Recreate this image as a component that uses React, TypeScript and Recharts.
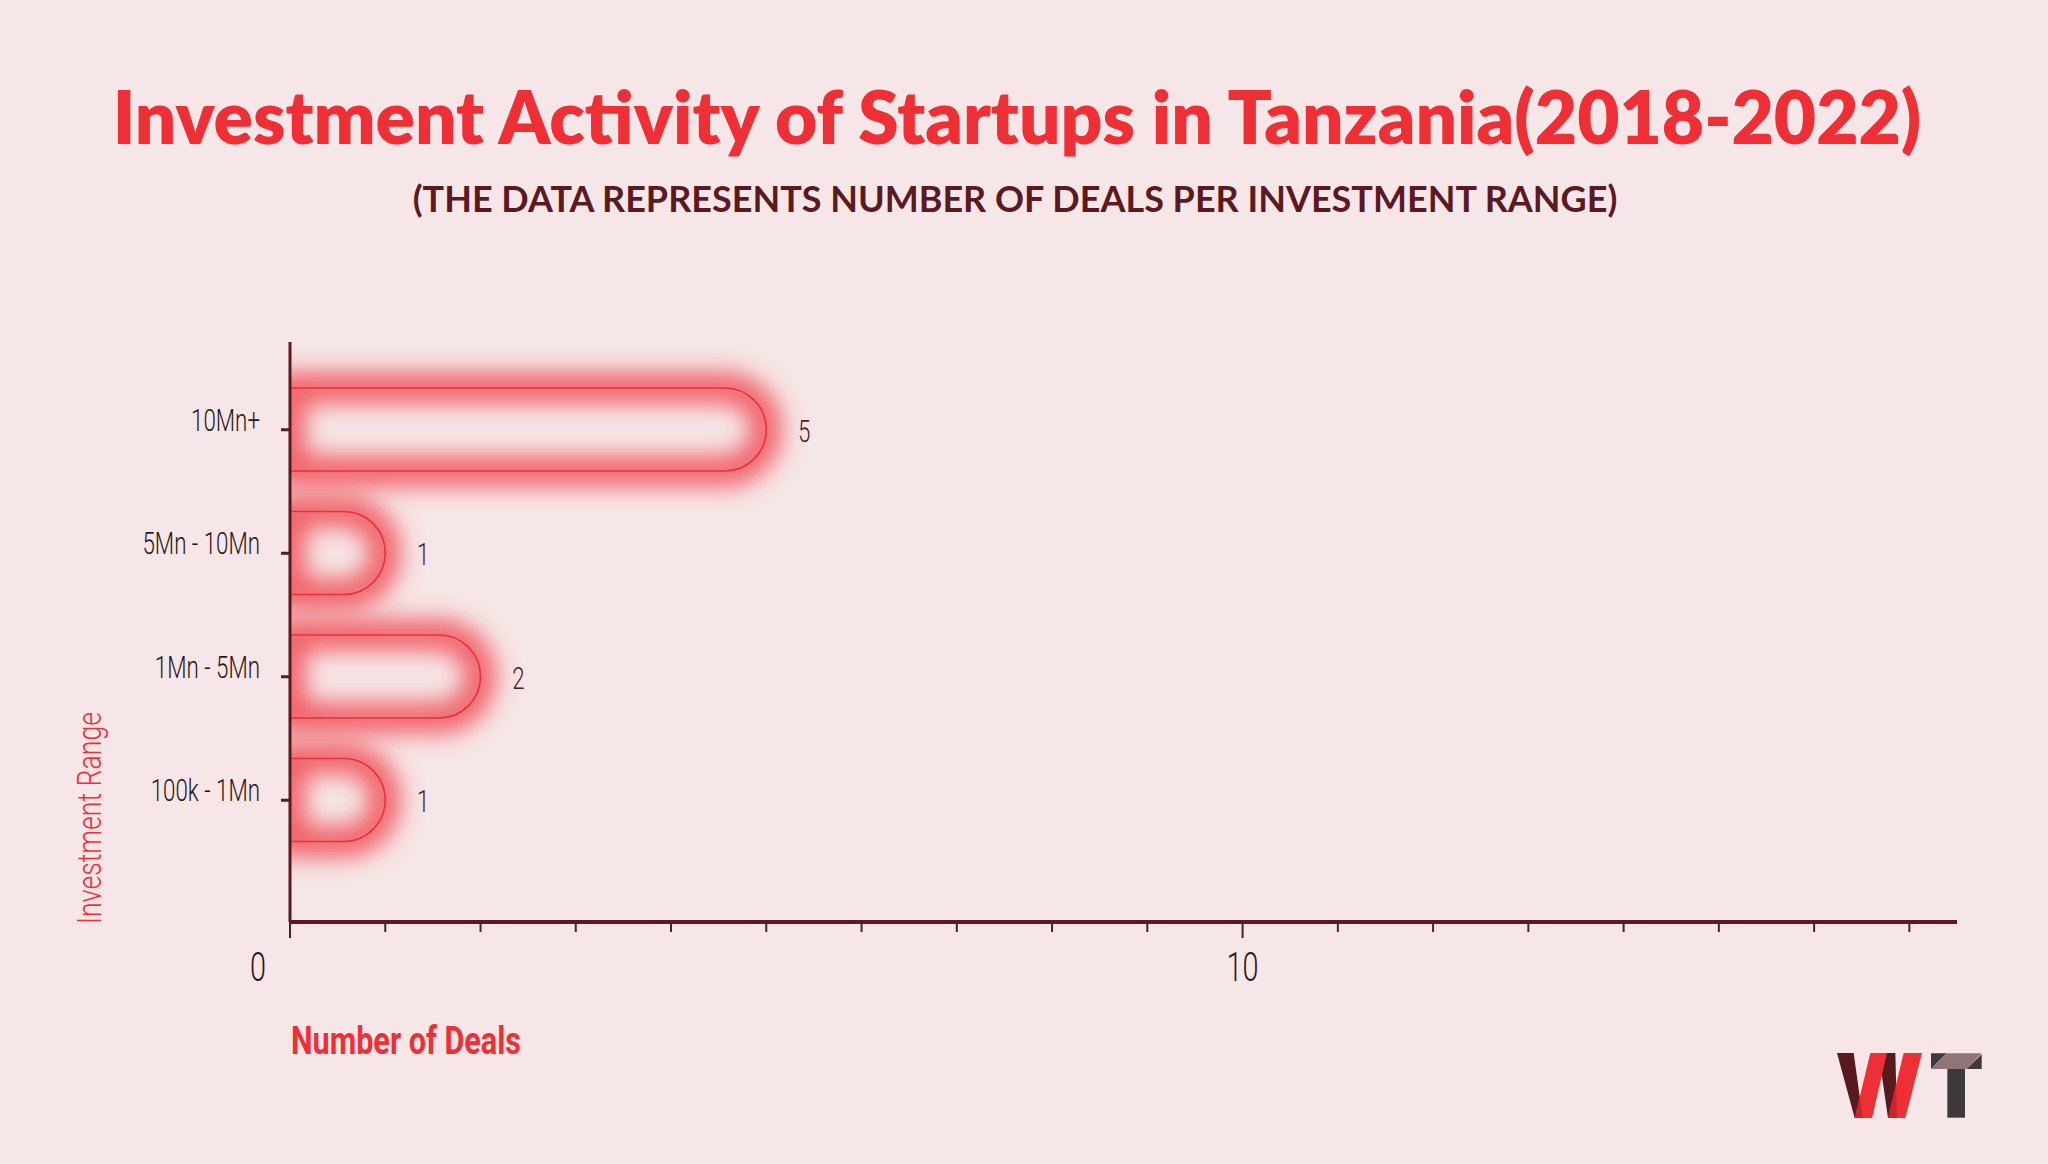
import React from 'react';
import { BarChart, Bar, XAxis, YAxis, LabelList } from 'recharts';

// deals per investment range, 2018-2022
const investmentRanges = ['10Mn+', '5Mn - 10Mn', '1Mn - 5Mn', '100k - 1Mn'];
const dealCounts = [5, 1, 2, 1];
const dealTicks = [0, 1, 2, 3, 4, 5, 6, 7, 8, 9, 10, 11, 12, 13, 14, 15, 16, 17];
const labelledDealTicks = [0, 10];
const dealDomain = [0, 17.5];

const data = investmentRanges.map((range, i) => ({ range, deals: dealCounts[i] }));

const BG = '#f6e6e7';
const RED = '#ee3036';
const MAROON = '#5a1a21';
const INK = '#2b1719';
const CONDENSED = 'Roboto, "DejaVu Sans", sans-serif';

// rounded-end bar with a soft red glow around its outline
const GlowBar = (props: any) => {
  const { x, y, width, height, index } = props;
  const r = Math.min(height / 2, width);
  const right = x + width;
  const outline = `M${x},${y} H${right - r} A${r},${r} 0 0 1 ${right},${y + r} V${y + height - r} A${r},${r} 0 0 1 ${right - r},${y + height} H${x}`;
  const id = `bar-glow-${index}`;
  return (
    <g>
      <defs>
        <filter id={id} x="-80%" y="-100%" width="260%" height="300%">
          <feGaussianBlur stdDeviation="12" />
        </filter>
      </defs>
      <path d={`${outline} Z`} fill="none" stroke="#ef3a42" strokeWidth={30} strokeOpacity={0.8} filter={`url(#${id})`} />
      <path d={outline} fill="none" stroke="#e9303a" strokeWidth={1.6} />
    </g>
  );
};

const DealValue = (props: any) => {
  const { x, y, width, height, value } = props;
  return (
    <g transform={`translate(${x + width + 38},${y + height / 2 + 12})`}>
      <text transform="scale(0.72,1)" textAnchor="middle" fontFamily={CONDENSED} fontWeight={300} fontSize={31} fill="#4a2025">
        {value}
      </text>
    </g>
  );
};

const RangeTick = (props: any) => {
  const { x, y, payload } = props;
  return (
    <g transform={`translate(${x},${y + 1})`}>
      <text transform="scale(0.72,1)" textAnchor="end" fontFamily={CONDENSED} fontWeight={300} fontSize={31} fill={INK}>
        {payload.value}
      </text>
    </g>
  );
};

const DealTick = (props: any) => {
  const { x, y, payload } = props;
  const major = labelledDealTicks.includes(payload.value);
  return (
    <g>
      <line x1={x} x2={x} y1={y} y2={y + (major ? 16 : 10)} stroke={MAROON} strokeWidth={2} />
      {major && (
        <g transform={`translate(${x + (payload.value === 0 ? -32 : 0)},${y + 59})`}>
          <text transform="scale(0.72,1)" textAnchor="middle" fontFamily={CONDENSED} fontWeight={300} fontSize={40} fill={INK}>
            {payload.value}
          </text>
        </g>
      )}
    </g>
  );
};

const DealsTitle = ({ viewBox }: any) => (
  <text x={viewBox.x + 1} y={viewBox.y + 132} textLength={230} lengthAdjust="spacingAndGlyphs" fontFamily={CONDENSED} fontWeight={700} fontSize={38} fill={RED}>
    Number of Deals
  </text>
);

const RangeTitle = ({ viewBox }: any) => {
  const cx = viewBox.x - 51;
  const cy = viewBox.y + viewBox.height - 104;
  return (
    <text
      x={cx}
      y={cy}
      transform={`rotate(-90 ${cx} ${cy})`}
      textAnchor="middle"
      dominantBaseline="central"
      textLength={212}
      lengthAdjust="spacingAndGlyphs"
      fontFamily={CONDENSED}
      fontWeight={300}
      fontSize={33}
      fill={RED}
    >
      Investment Range
    </text>
  );
};

// WT mark, bottom right
const Logo = () => (
  <g>
    <svg x={1832} y={1048} width={100} height={75} viewBox="0 0 300 225">
      <polygon points="15,15 65,15 92,210 68,210" fill="#561a1f" />
      <polygon points="140,15 190,15 195,210 168,210" fill="#561a1f" />
      <polygon points="115,15 165,15 120,210 68,210" fill="#ee2f35" />
      <polygon points="215,15 270,15 220,210 168,210" fill="#ee2f35" />
      <polygon points="68,210 92,210 83,147" fill="#c8262e" />
      <polygon points="192,109 168,210 195,210" fill="#c8262e" />
    </svg>
    <svg x={1830} y={1045} width={160} height={80} viewBox="0 0 480 240">
      <polygon points="303,25 350,25 303,72" fill="#3e3a3b" />
      <polygon points="350,25 455,25 410,72 303,72" fill="#8f7576" />
      <polygon points="455,28 455,72 410,72" fill="#3e3a3b" />
      <rect x={352} y={72} width={53} height={146} fill="#3e3a3b" />
    </svg>
  </g>
);

export default function App() {
  return (
    <div style={{ position: 'absolute', left: 0, top: 0, width: 2048, height: 1164, background: BG, overflow: 'hidden' }}>
      <BarChart
        width={2048}
        height={1164}
        data={data}
        layout="vertical"
        margin={{ top: 342, right: 91, bottom: 182, left: 140 }}
      >
        <XAxis
          type="number"
          dataKey="deals"
          domain={dealDomain}
          ticks={dealTicks}
          allowDataOverflow
          height={60}
          axisLine={{ stroke: MAROON, strokeWidth: 4 }}
          tickLine={false}
          tickSize={0}
          tickMargin={0}
          tick={<DealTick />}
          interval={0}
          label={<DealsTitle />}
        />
        <YAxis
          type="category"
          dataKey="range"
          width={150}
          padding={{ top: 26, bottom: 60 }}
          axisLine={{ stroke: MAROON, strokeWidth: 3 }}
          tickLine={{ stroke: MAROON, strokeWidth: 3 }}
          tickSize={9}
          tickMargin={21}
          tick={<RangeTick />}
          interval={0}
          label={<RangeTitle />}
        />
        <Bar dataKey="deals" barSize={83} shape={<GlowBar />} isAnimationActive={false}>
          <LabelList dataKey="deals" content={<DealValue />} />
        </Bar>
      </BarChart>
      <svg width={2048} height={1164} style={{ position: 'absolute', left: 0, top: 0, pointerEvents: 'none' }}>
        <text x={1017} y={144} textAnchor="middle" fontFamily="Lato, sans-serif" fontWeight={800} fontSize={73} fill={RED}>
          Investment Activity of Startups in Tanzania(2018-2022)
        </text>
        <text x={1015} y={212} textAnchor="middle" fontFamily="Lato, sans-serif" fontWeight={700} fontSize={36} fill="#5b1a22">
          (THE DATA REPRESENTS NUMBER OF DEALS PER INVESTMENT RANGE)
        </text>
        <Logo />
      </svg>
    </div>
  );
}
